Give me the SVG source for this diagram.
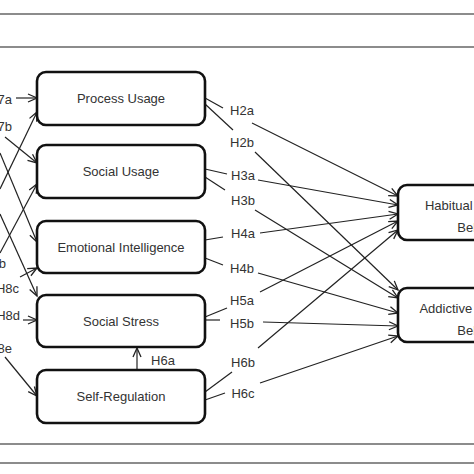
<svg xmlns="http://www.w3.org/2000/svg" width="474" height="474" viewBox="0 0 474 474">
<style>
.box{fill:#fff;stroke:#111;stroke-width:2.6}
.t{font-family:"Liberation Sans",Arial,sans-serif;font-size:13px;fill:#333;text-anchor:middle;dominant-baseline:central}
.l{font-family:"Liberation Sans",Arial,sans-serif;font-size:13px;fill:#333;text-anchor:middle;dominant-baseline:central}
.le{font-family:"Liberation Sans",Arial,sans-serif;font-size:13px;fill:#333;text-anchor:end;dominant-baseline:central}
.c{stroke:#222;stroke-width:1.2;fill:none}
.a{stroke:#222;stroke-width:1.2;fill:none;marker-end:url(#ah)}
.rule{stroke:#666;stroke-width:1.6}
</style>
<defs>
<marker id="ah" markerUnits="userSpaceOnUse" markerWidth="12" markerHeight="12" refX="10" refY="5" orient="auto" viewBox="0 0 12 10">
<path d="M1,1 L10,5 L1,9" fill="none" stroke="#222" stroke-width="1.3"/>
</marker>
</defs>
<rect width="474" height="474" fill="#fff"/>
<line class="rule" x1="0" y1="14" x2="474" y2="14"/>
<line class="rule" x1="0" y1="47" x2="474" y2="47"/>
<line class="rule" x1="0" y1="444" x2="474" y2="444"/>
<line class="rule" x1="0" y1="463" x2="474" y2="463"/>

<g id="connectors">
<line class="a" x1="16" y1="98" x2="37" y2="98"/>
<line class="a" x1="5" y1="137" x2="37" y2="163"/>
<line class="a" x1="0" y1="189" x2="37" y2="112"/>
<line class="a" x1="0" y1="153" x2="37" y2="242"/>
<line class="a" x1="0" y1="253" x2="37" y2="184"/>
<line class="a" x1="0" y1="214" x2="37" y2="296"/>
<line class="a" x1="20" y1="277" x2="37" y2="268"/>
<line class="a" x1="23" y1="320" x2="37" y2="320"/>
<line class="a" x1="5" y1="357" x2="37" y2="396"/>
<line class="a" x1="137" y1="370" x2="137" y2="348"/>
<line class="c" x1="205" y1="98" x2="223" y2="108"/>
<line class="c" x1="205" y1="104" x2="233" y2="130"/>
<line class="c" x1="205" y1="169" x2="227" y2="174"/>
<line class="c" x1="205" y1="177" x2="225" y2="190"/>
<line class="c" x1="205" y1="240" x2="223" y2="237"/>
<line class="c" x1="205" y1="258" x2="223" y2="265"/>
<line class="c" x1="205" y1="317" x2="227" y2="308"/>
<line class="c" x1="205" y1="320" x2="220" y2="320"/>
<line class="c" x1="205" y1="392" x2="232" y2="372"/>
<line class="c" x1="205" y1="400" x2="225" y2="393"/>
<line class="a" x1="252" y1="123" x2="398" y2="196"/>
<line class="a" x1="255" y1="152" x2="398" y2="290"/>
<line class="a" x1="258" y1="180" x2="398" y2="205"/>
<line class="a" x1="255" y1="210" x2="398" y2="298"/>
<line class="a" x1="260" y1="233" x2="398" y2="214"/>
<line class="a" x1="258" y1="273" x2="398" y2="313"/>
<line class="a" x1="260" y1="292" x2="398" y2="221"/>
<line class="a" x1="263" y1="322" x2="398" y2="326"/>
<line class="a" x1="258" y1="348" x2="398" y2="230"/>
<line class="a" x1="260" y1="383" x2="398" y2="336"/>
</g>

<g id="labels">
<text class="le" x="12" y="99">H7a</text>
<text class="le" x="12" y="126">H7b</text>
<text class="le" x="6" y="263">H8b</text>
<text class="le" x="19" y="288">H8c</text>
<text class="le" x="20" y="315">H8d</text>
<text class="le" x="12" y="348">H8e</text>
<text class="l" x="242" y="110">H2a</text>
<text class="l" x="242" y="142">H2b</text>
<text class="l" x="243" y="175">H3a</text>
<text class="l" x="243" y="200">H3b</text>
<text class="l" x="243" y="233">H4a</text>
<text class="l" x="242" y="268">H4b</text>
<text class="l" x="242" y="300">H5a</text>
<text class="l" x="242" y="323">H5b</text>
<text class="l" x="243" y="362">H6b</text>
<text class="l" x="243" y="393">H6c</text>
<text class="l" x="163" y="360">H6a</text>
</g>

<g id="process-usage"><rect class="box" x="37" y="72" width="168" height="53" rx="9"/><text class="t" x="121" y="98.5">Process Usage</text></g>
<g id="social-usage"><rect class="box" x="37" y="145" width="168" height="53" rx="9"/><text class="t" x="121" y="171.5">Social Usage</text></g>
<g id="emotional-intelligence"><rect class="box" x="37" y="221" width="168" height="52" rx="9"/><text class="t" x="121" y="247">Emotional Intelligence</text></g>
<g id="social-stress"><rect class="box" x="37" y="295" width="168" height="52" rx="9"/><text class="t" x="121" y="321">Social Stress</text></g>
<g id="self-regulation"><rect class="box" x="37" y="370" width="168" height="53" rx="9"/><text class="t" x="121" y="396.5">Self-Regulation</text></g>
<g id="habitual"><rect class="box" x="398" y="185" width="170" height="55" rx="9"/><text class="t" x="486" y="205">Habitual Smartphone</text><text class="t" x="483" y="227">Behavior</text></g>
<g id="addictive"><rect class="box" x="398" y="288" width="170" height="54" rx="9"/><text class="t" x="483" y="308">Addictive Smartphone</text><text class="t" x="483" y="330">Behavior</text></g>
</svg>
